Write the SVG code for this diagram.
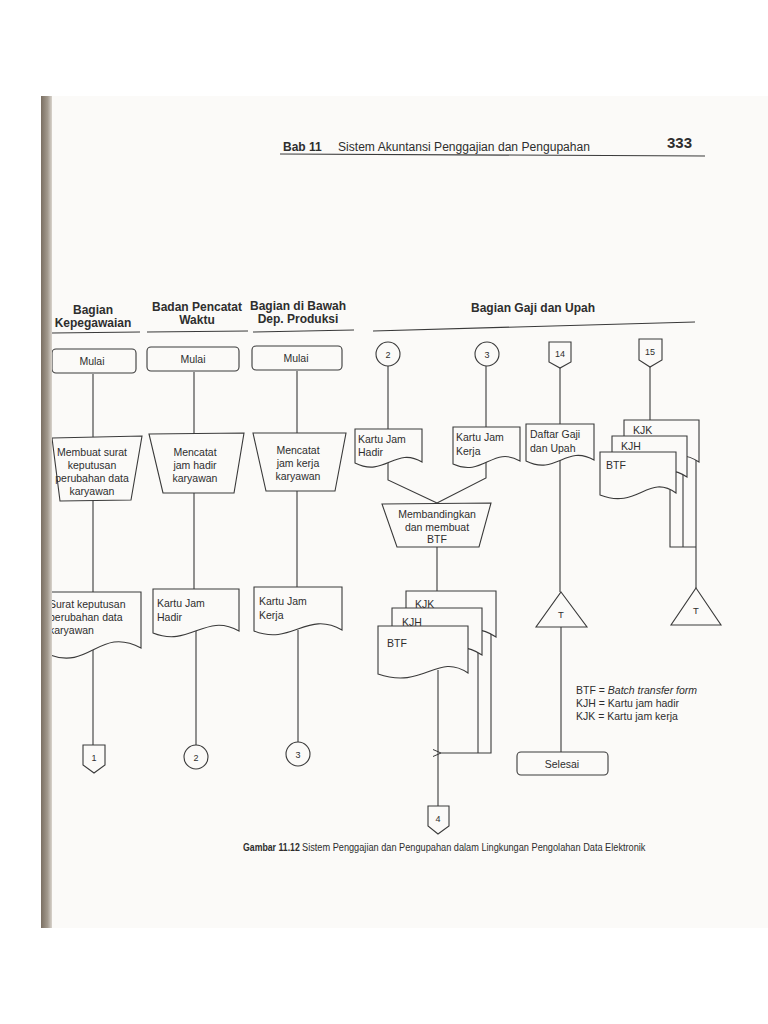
<svg xmlns="http://www.w3.org/2000/svg" width="768" height="1024" viewBox="0 0 768 1024">
<defs>
<style>
.ln{fill:none;stroke:#3a3a3a;stroke-width:1.1}
.sh{fill:#fbfaf8;stroke:#3a3a3a;stroke-width:1.1}
text{font-family:"Liberation Sans",Arial,sans-serif;fill:#2e2e2e}
.t{font-size:10.5px}
.c{text-anchor:middle}
.h{font-size:12px;font-weight:bold;text-anchor:middle}
</style>
<linearGradient id="edge" x1="0" x2="1" y1="0" y2="0">
<stop offset="0" stop-color="#7a6f62"/><stop offset="0.6" stop-color="#a39a8e"/><stop offset="1" stop-color="#d8d3cc"/>
</linearGradient>
<marker id="arr" markerWidth="10" markerHeight="8" refX="1" refY="4" orient="auto" markerUnits="userSpaceOnUse">
<path d="M9,0.5 L1,4 L9,7.5" fill="none" stroke="#3a3a3a" stroke-width="1"/>
</marker>
</defs>
<rect width="768" height="1024" fill="#ffffff"/>
<rect x="41" y="96" width="727" height="832" fill="#fbfaf8"/>

<!-- header -->
<g id="header">
<text x="283" y="151" style="font-size:12px;font-weight:bold">Bab 11</text>
<text x="338" y="151" style="font-size:12px" textLength="252" lengthAdjust="spacingAndGlyphs">Sistem Akuntansi Penggajian dan Pengupahan</text>
<text x="667" y="148" style="font-size:15px;font-weight:bold">333</text>
<path d="M280,154 L705,156" class="ln" stroke-width="1.6"/>
</g>

<!-- column headers -->
<g id="lanes">
<text x="93" y="314" class="h">Bagian</text>
<text x="93" y="327" class="h">Kepegawaian</text>
<path d="M52,333 L140,332" class="ln"/>
<text x="197" y="311" class="h">Badan Pencatat</text>
<text x="197" y="324" class="h">Waktu</text>
<path d="M147,332 L248,331" class="ln"/>
<text x="298" y="310" class="h">Bagian di Bawah</text>
<text x="298" y="323" class="h">Dep. Produksi</text>
<path d="M253,332 L354,330" class="ln"/>
<text x="533" y="312" class="h">Bagian Gaji dan Upah</text>
<path d="M373,331 L695,322" class="ln"/>
</g>

<!-- connectors -->
<g id="connectors">
<path d="M93,374 V437 M93,500 V592 M93,650 V745" class="ln"/>
<path d="M194,372 V434 M194,493 V589 M196,630 V745" class="ln"/>
<path d="M297,371 V433 M297,491 V587 M298,630 V742" class="ln"/>
<path d="M388,366 V429 M486,366 V427 M560,368 V424 M650,367 V420" class="ln"/>
<path d="M388,460 V480 L437,503 M486,460 V478 L437,503" class="ln"/>
<path d="M437,547 V591" class="ln"/>
<path d="M438,670 V806" class="ln"/>
<path d="M478,650 V753 M491,630 V753 H441" class="ln" marker-end="url(#arr)"/>
<path d="M560,460 V592 M561,627 V752" class="ln"/>
<path d="M670,490 V547 H696 M683,470 V547 M696,455 V588" class="ln"/>
</g>

<!-- lane 1 -->
<g id="mulai1"><rect x="52" y="349" width="84" height="24" rx="4" class="sh"/><text x="92" y="365" class="t c">Mulai</text></g>
<g id="proses1"><path d="M52,438 L142,436 L131,500 L60,501 Z" class="sh"/>
<text x="92" y="456" class="t c">Membuat surat</text>
<text x="92" y="469" class="t c">keputusan</text>
<text x="92" y="482" class="t c">perubahan data</text>
<text x="92" y="495" class="t c">karyawan</text></g>
<g id="dok1"><path d="M50,592 H141 V648 C100,626 90,670 50,655 Z" class="sh"/>
<text x="49" y="608" class="t">Surat keputusan</text>
<text x="49" y="621" class="t">perubahan data</text>
<text x="49" y="634" class="t">karyawan</text></g>
<g id="off1"><path d="M83,745 H105 V765 L94,773 L83,765 Z" class="sh"/><text x="94" y="761" class="c" style="font-size:9px">1</text></g>

<!-- lane 2 -->
<g id="mulai2"><rect x="147" y="347" width="92" height="24" rx="4" class="sh"/><text x="193" y="363" class="t c">Mulai</text></g>
<g id="proses2"><path d="M149,434 L244,433 L234,493 L163,493 Z" class="sh"/>
<text x="195" y="456" class="t c">Mencatat</text>
<text x="195" y="469" class="t c">jam hadir</text>
<text x="195" y="482" class="t c">karyawan</text></g>
<g id="dok2"><path d="M153,589 H239 V631 C205,612 190,648 153,633 Z" class="sh"/>
<text x="157" y="607" class="t">Kartu Jam</text>
<text x="157" y="621" class="t">Hadir</text></g>
<g id="on2"><circle cx="196" cy="757" r="12" class="sh"/><text x="196" y="761" class="c" style="font-size:9px">2</text></g>

<!-- lane 3 -->
<g id="mulai3"><rect x="252" y="346" width="90" height="24" rx="4" class="sh"/><text x="296" y="362" class="t c">Mulai</text></g>
<g id="proses3"><path d="M253,433 L346,433 L335,491 L266,491 Z" class="sh"/>
<text x="298" y="454" class="t c">Mencatat</text>
<text x="298" y="467" class="t c">jam kerja</text>
<text x="298" y="480" class="t c">karyawan</text></g>
<g id="dok3"><path d="M254,587 H342 V630 C307,610 292,646 254,631 Z" class="sh"/>
<text x="259" y="605" class="t">Kartu Jam</text>
<text x="259" y="619" class="t">Kerja</text></g>
<g id="on3"><circle cx="298" cy="754" r="12" class="sh"/><text x="298" y="758" class="c" style="font-size:9px">3</text></g>

<!-- lane 4 -->
<g id="in2"><circle cx="388" cy="354" r="12" class="sh"/><text x="388" y="358" class="c" style="font-size:9px">2</text></g>
<g id="in3"><circle cx="487" cy="354" r="12" class="sh"/><text x="487" y="358" class="c" style="font-size:9px">3</text></g>
<g id="in14"><path d="M549,342 H571 V362 L560,368 L549,362 Z" class="sh"/><text x="560" y="357" class="c" style="font-size:9px">14</text></g>
<g id="in15"><path d="M639,339 H662 V360 L650,367 L639,360 Z" class="sh"/><text x="650" y="355" class="c" style="font-size:9px">15</text></g>

<g id="dokKJH"><path d="M355,429 H422 V462 C395,446 385,478 355,463 Z" class="sh"/>
<text x="358" y="443" class="t">Kartu Jam</text>
<text x="358" y="456" class="t">Hadir</text></g>
<g id="dokKJK"><path d="M453,427 H520 V461 C493,445 483,478 453,464 Z" class="sh"/>
<text x="456" y="441" class="t">Kartu Jam</text>
<text x="456" y="455" class="t">Kerja</text></g>
<g id="dokDaftar"><path d="M526,424 H594 V460 C566,444 556,476 526,461 Z" class="sh"/>
<text x="530" y="438" class="t">Daftar Gaji</text>
<text x="530" y="452" class="t">dan Upah</text></g>

<g id="proses4"><path d="M382,504 L491,503 L479,547 L397,547 Z" class="sh"/>
<text x="437" y="518" class="t c">Membandingkan</text>
<text x="437" y="531" class="t c">dan membuat</text>
<text x="437" y="543" class="t c">BTF</text></g>

<g id="stack1">
<path d="M406,591 H496 V637 C465,616 452,648 406,632 Z" class="sh"/>
<text x="415" y="608" class="t">KJK</text>
<path d="M392,608 H482 V655 C451,634 438,666 392,650 Z" class="sh"/>
<text x="402" y="626" class="t">KJH</text>
<path d="M378,626 H468 V673 C437,652 424,690 378,674 Z" class="sh"/>
<text x="387" y="647" class="t">BTF</text>
</g>
<g id="off4"><path d="M428,806 H449 V826 L438,834 L428,826 Z" class="sh"/><text x="438" y="822" class="c" style="font-size:9px">4</text></g>

<g id="stack2">
<path d="M624,420 H699 V462 C672,444 662,472 624,458 Z" class="sh"/>
<text x="633" y="434" class="t">KJK</text>
<path d="M612,436 H687 V477 C660,459 650,488 612,474 Z" class="sh"/>
<text x="621" y="450" class="t">KJH</text>
<path d="M600,452 H676 V493 C648,473 638,510 600,495 Z" class="sh"/>
<text x="606" y="469" class="t">BTF</text>
</g>

<g id="arsip1"><path d="M561,592 L587,627 L536,627 Z" class="sh"/><text x="561" y="618" class="c" style="font-size:9.5px">T</text></g>
<g id="arsip2"><path d="M696,588 L721,625 L671,625 Z" class="sh"/><text x="696" y="614" class="c" style="font-size:9.5px">T</text></g>
<g id="selesai"><rect x="517" y="752" width="91" height="23" rx="4" class="sh"/><text x="562" y="768" class="t c">Selesai</text></g>

<g id="legend">
<text x="576" y="694" style="font-size:10.5px">BTF = <tspan font-style="italic">Batch transfer form</tspan></text>
<text x="576" y="707" style="font-size:10.5px">KJH = Kartu jam hadir</text>
<text x="576" y="720" style="font-size:10.5px">KJK = Kartu jam kerja</text>
</g>

<g id="caption">
<text transform="translate(243,851) scale(0.76,1)" style="font-size:11.5px;font-weight:bold">Gambar 11.12</text>
<text transform="translate(302,851) scale(0.8,1)" style="font-size:11.5px">Sistem Penggajian dan Pengupahan dalam Lingkungan Pengolahan Data Elektronik</text>
</g>

<rect x="41" y="96" width="11" height="832" fill="url(#edge)"/>
</svg>
